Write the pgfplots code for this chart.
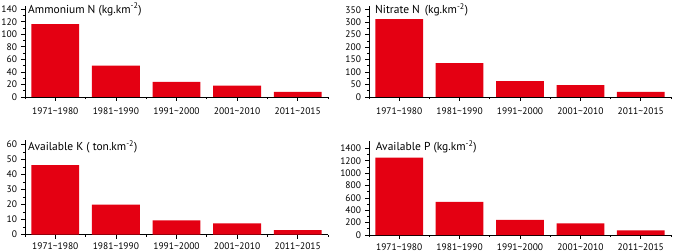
\documentclass[border=0pt]{standalone}
\usepackage{fontspec}
\setmainfont{PT Sans}
\usepackage{pgfplots}
\pgfplotsset{compat=1.18}
\definecolor{barred}{RGB}{228,0,18}
\pgfplotsset{
  panel/.style={
    scale only axis,
    anchor=south west,
    axis lines*=left,
    axis line style={black, line width=0.8bp},
    xmin=-0.5, xmax=4.5, ymin=0,
    xtick={0,1,2,3,4},
    xticklabels={1971\textasciitilde1980,1981\textasciitilde1990,1991\textasciitilde2000,2001\textasciitilde2010,2011\textasciitilde2015},
    minor xtick={-0.5,0.5,1.5,2.5,3.5,4.5},
    minor y tick num=1,
    tick align=outside,
    major tick length=4bp,
    minor tick length=2.2bp,
    every tick/.style={black, line width=0.7bp},
    tick label style={font=\fontsize{9.5bp}{11bp}\selectfont, black},
    /pgf/number format/assume math mode=true,
    /pgf/number format/1000 sep={},
    xticklabel style={yshift=-1bp},
    yticklabel style={xshift=-0.5bp},
    ybar, bar width=0.79, bar shift=0pt,
    clip=false,
  },
  bars/.style={fill=barred, draw=none},
}
\begin{document}
\begin{tikzpicture}
\useasboundingbox (0,0) rectangle (675bp,252bp);
% Panel 1: Ammonium N
\begin{axis}[panel, at={(25bp,155bp)}, width=303bp, height=91bp, ymax=145,
  ytick={0,20,...,140}, xticklabel style={yshift=-2bp}]
\addplot[bars] coordinates {(0,116) (1,50) (2,24) (3,18) (4,8)};
\end{axis}
% Panel 2: Nitrate N
\begin{axis}[panel, at={(369bp,155bp)}, width=302bp, height=91bp, ymax=365,
  ytick={0,50,...,350}, xticklabel style={yshift=-2bp}]
\addplot[bars] coordinates {(0,312) (1,136) (2,64) (3,48) (4,21)};
\end{axis}
% Panel 3: Available K
\begin{axis}[panel, at={(25bp,17.5bp)}, width=303bp, height=94.5bp, ymax=63,
  ytick={0,10,...,60}]
\addplot[bars] coordinates {(0,46.2) (1,20) (2,9.4) (3,7.4) (4,2.9)};
\end{axis}
% Panel 4: Available P
\begin{axis}[panel, at={(369bp,17bp)}, width=302bp, height=94bp, ymax=1520,
  ytick={0,200,...,1400}]
\addplot[bars] coordinates {(0,1250) (1,536) (2,246) (3,188) (4,75)};
\end{axis}
\tikzset{ttl/.style={anchor=base west, inner sep=0pt, font=\fontsize{11.5bp}{13bp}\selectfont}}
\node[ttl] at (28bp,238.7bp) {Ammonium N (kg.km\textsuperscript{-2})};
\node[ttl] at (375bp,238bp) {Nitrate N\, (kg.km\textsuperscript{-2})};
\node[ttl] at (28bp,101.3bp) {Available K ( ton.km\textsuperscript{-2})};
\node[ttl] at (375.7bp,101bp) {Available P (kg.km\textsuperscript{-2})};
\end{tikzpicture}
\end{document}
